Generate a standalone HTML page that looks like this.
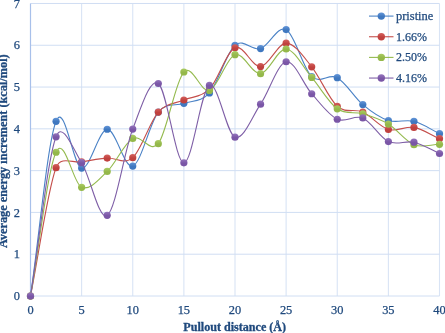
<!DOCTYPE html><html><head><meta charset="utf-8"><title>Chart</title><style>html,body{margin:0;padding:0;background:#fff}svg{display:block}.b{stroke:#1F497D;stroke-width:0.3}.t{stroke:#1F497D;stroke-width:0.25}text{font-family:"Liberation Serif","DejaVu Serif",serif;fill:#1F497D}</style></head><body>
<svg width="445" height="333" viewBox="0 0 445 333">
<rect width="445" height="333" fill="#fff"/>
<defs>
<linearGradient id="g0" x1="0" y1="0" x2="0" y2="1"><stop offset="0" stop-color="#6496D8"/><stop offset="0.55" stop-color="#3F78C0"/><stop offset="1" stop-color="#3F78C0"/></linearGradient>
<linearGradient id="g1" x1="0" y1="0" x2="0" y2="1"><stop offset="0" stop-color="#D4615E"/><stop offset="0.55" stop-color="#C0413E"/><stop offset="1" stop-color="#C0413E"/></linearGradient>
<linearGradient id="g2" x1="0" y1="0" x2="0" y2="1"><stop offset="0" stop-color="#AACB63"/><stop offset="0.55" stop-color="#94B84A"/><stop offset="1" stop-color="#94B84A"/></linearGradient>
<linearGradient id="g3" x1="0" y1="0" x2="0" y2="1"><stop offset="0" stop-color="#9474BC"/><stop offset="0.55" stop-color="#7A56A6"/><stop offset="1" stop-color="#7A56A6"/></linearGradient>
</defs>
<g stroke="#D9E4F5" stroke-width="1.1"><line x1="81.62" x2="81.62" y1="296.00" y2="3.47"/><line x1="132.75" x2="132.75" y1="296.00" y2="3.47"/><line x1="183.88" x2="183.88" y1="296.00" y2="3.47"/><line x1="235.00" x2="235.00" y1="296.00" y2="3.47"/><line x1="286.12" x2="286.12" y1="296.00" y2="3.47"/><line x1="337.25" x2="337.25" y1="296.00" y2="3.47"/><line x1="388.38" x2="388.38" y1="296.00" y2="3.47"/><line x1="439.50" x2="439.50" y1="296.00" y2="3.47"/></g>
<g stroke="#D0DEF3" stroke-width="1"><line x1="30.50" x2="439.50" y1="296.00" y2="296.00"/><line x1="30.50" x2="439.50" y1="254.21" y2="254.21"/><line x1="30.50" x2="439.50" y1="212.42" y2="212.42"/><line x1="30.50" x2="439.50" y1="170.63" y2="170.63"/><line x1="30.50" x2="439.50" y1="128.84" y2="128.84"/><line x1="30.50" x2="439.50" y1="87.05" y2="87.05"/><line x1="30.50" x2="439.50" y1="45.26" y2="45.26"/><line x1="30.50" x2="439.50" y1="3.47" y2="3.47"/></g>
<line x1="30.50" x2="30.50" y1="296.00" y2="3.47" stroke="#A8C0EA" stroke-width="1.2"/>
<text x="19.9" y="300.20" font-size="12.4" text-anchor="end" class="t">0</text>
<text x="19.9" y="258.41" font-size="12.4" text-anchor="end" class="t">1</text>
<text x="19.9" y="216.62" font-size="12.4" text-anchor="end" class="t">2</text>
<text x="19.9" y="174.83" font-size="12.4" text-anchor="end" class="t">3</text>
<text x="19.9" y="133.04" font-size="12.4" text-anchor="end" class="t">4</text>
<text x="19.9" y="91.25" font-size="12.4" text-anchor="end" class="t">5</text>
<text x="19.9" y="49.46" font-size="12.4" text-anchor="end" class="t">6</text>
<text x="19.9" y="7.67" font-size="12.4" text-anchor="end" class="t">7</text>
<text x="30.50" y="313.9" font-size="12.4" text-anchor="middle" class="t">0</text>
<text x="81.62" y="313.9" font-size="12.4" text-anchor="middle" class="t">5</text>
<text x="132.75" y="313.9" font-size="12.4" text-anchor="middle" class="t">10</text>
<text x="183.88" y="313.9" font-size="12.4" text-anchor="middle" class="t">15</text>
<text x="235.00" y="313.9" font-size="12.4" text-anchor="middle" class="t">20</text>
<text x="286.12" y="313.9" font-size="12.4" text-anchor="middle" class="t">25</text>
<text x="337.25" y="313.9" font-size="12.4" text-anchor="middle" class="t">30</text>
<text x="388.38" y="313.9" font-size="12.4" text-anchor="middle" class="t">35</text>
<text x="439.50" y="313.9" font-size="12.4" text-anchor="middle" class="t">40</text>
<text x="234.7" y="330.6" font-size="12.1" font-weight="bold" class="b" text-anchor="middle">Pullout distance (Å)</text>
<text transform="translate(7.4,151.2) rotate(-90)" font-size="12.3" font-weight="bold" class="b" text-anchor="middle">Average energy increment (kcal/mol)</text>
<path d="M30.50 296.00 C39.02 237.77 47.54 142.63 56.06 121.32 C64.58 100.00 73.10 166.80 81.62 168.12 C90.15 169.45 98.67 129.61 107.19 129.26 C115.71 128.91 124.23 168.89 132.75 166.03 C141.27 163.18 149.79 122.57 158.31 112.12 C166.83 101.68 175.35 106.55 183.88 103.35 C192.40 100.14 200.92 102.58 209.44 92.90 C217.96 83.22 226.48 52.64 235.00 45.26 C243.52 37.88 252.04 51.22 260.56 48.60 C269.08 45.99 277.60 24.92 286.12 29.59 C294.65 34.26 303.17 68.59 311.69 76.60 C320.21 84.61 328.73 72.98 337.25 77.65 C345.77 82.31 354.29 97.46 362.81 104.60 C371.33 111.74 379.85 117.70 388.38 120.48 C396.90 123.27 405.42 119.12 413.94 121.32 C422.46 123.51 430.98 129.54 439.50 133.65" fill="none" stroke="#4A82C6" stroke-width="1.1" stroke-linejoin="round"/>
<g fill="url(#g0)"><circle cx="30.50" cy="296.00" r="3.6"/><circle cx="56.06" cy="121.32" r="3.6"/><circle cx="81.62" cy="168.12" r="3.6"/><circle cx="107.19" cy="129.26" r="3.6"/><circle cx="132.75" cy="166.03" r="3.6"/><circle cx="158.31" cy="112.12" r="3.6"/><circle cx="183.88" cy="103.35" r="3.6"/><circle cx="209.44" cy="92.90" r="3.6"/><circle cx="235.00" cy="45.26" r="3.6"/><circle cx="260.56" cy="48.60" r="3.6"/><circle cx="286.12" cy="29.59" r="3.6"/><circle cx="311.69" cy="76.60" r="3.6"/><circle cx="337.25" cy="77.65" r="3.6"/><circle cx="362.81" cy="104.60" r="3.6"/><circle cx="388.38" cy="120.48" r="3.6"/><circle cx="413.94" cy="121.32" r="3.6"/><circle cx="439.50" cy="133.65" r="3.6"/></g>
<path d="M30.50 296.00 C39.02 253.23 47.54 190.06 56.06 167.70 C60.73 155.45 73.10 163.46 81.62 161.85 C90.15 160.25 98.67 158.79 107.19 158.09 C115.71 157.40 124.23 165.34 132.75 157.68 C141.27 150.01 149.79 121.74 158.31 112.12 C166.83 102.51 175.35 103.84 183.88 100.00 C192.40 96.17 200.92 97.85 209.44 89.14 C217.96 80.43 226.48 51.53 235.00 47.77 C243.52 44.01 252.04 67.34 260.56 66.57 C269.08 65.81 277.60 43.14 286.12 43.17 C294.65 43.21 303.17 56.26 311.69 66.78 C320.21 77.30 328.73 98.72 337.25 106.27 C345.77 113.83 354.29 108.26 362.81 112.12 C371.33 115.99 379.85 126.92 388.38 129.47 C396.90 132.01 405.42 125.85 413.94 127.38 C422.46 128.91 430.98 134.90 439.50 138.66" fill="none" stroke="#C44E4B" stroke-width="1.1" stroke-linejoin="round"/>
<g fill="url(#g1)"><circle cx="30.50" cy="296.00" r="3.6"/><circle cx="56.06" cy="167.70" r="3.6"/><circle cx="81.62" cy="161.85" r="3.6"/><circle cx="107.19" cy="158.09" r="3.6"/><circle cx="132.75" cy="157.68" r="3.6"/><circle cx="158.31" cy="112.12" r="3.6"/><circle cx="183.88" cy="100.00" r="3.6"/><circle cx="209.44" cy="89.14" r="3.6"/><circle cx="235.00" cy="47.77" r="3.6"/><circle cx="260.56" cy="66.57" r="3.6"/><circle cx="286.12" cy="43.17" r="3.6"/><circle cx="311.69" cy="66.78" r="3.6"/><circle cx="337.25" cy="106.27" r="3.6"/><circle cx="362.81" cy="112.12" r="3.6"/><circle cx="388.38" cy="129.47" r="3.6"/><circle cx="413.94" cy="127.38" r="3.6"/><circle cx="439.50" cy="138.66" r="3.6"/></g>
<path d="M30.50 296.00 C39.02 248.08 47.54 170.35 56.06 152.24 C64.58 134.13 73.10 184.14 81.62 187.35 C90.15 190.55 98.67 179.61 107.19 171.47 C115.71 163.32 124.23 143.08 132.75 138.45 C141.27 133.82 150.36 154.01 158.31 143.68 C166.83 132.60 175.35 80.89 183.88 72.01 C192.40 63.13 200.92 93.28 209.44 90.39 C217.96 87.50 226.48 57.45 235.00 54.66 C243.52 51.88 252.04 74.62 260.56 73.68 C269.08 72.74 277.60 48.39 286.12 49.02 C294.65 49.65 303.17 67.48 311.69 77.44 C320.21 87.40 328.73 102.72 337.25 108.78 C345.77 114.84 354.29 111.25 362.81 113.80 C371.33 116.34 379.85 118.88 388.38 124.03 C396.90 129.19 405.42 141.34 413.94 144.72 C422.46 148.10 430.98 144.44 439.50 144.30" fill="none" stroke="#94BA4E" stroke-width="1.1" stroke-linejoin="round"/>
<g fill="url(#g2)"><circle cx="30.50" cy="296.00" r="3.6"/><circle cx="56.06" cy="152.24" r="3.6"/><circle cx="81.62" cy="187.35" r="3.6"/><circle cx="107.19" cy="171.47" r="3.6"/><circle cx="132.75" cy="138.45" r="3.6"/><circle cx="158.31" cy="143.68" r="3.6"/><circle cx="183.88" cy="72.01" r="3.6"/><circle cx="209.44" cy="90.39" r="3.6"/><circle cx="235.00" cy="54.66" r="3.6"/><circle cx="260.56" cy="73.68" r="3.6"/><circle cx="286.12" cy="49.02" r="3.6"/><circle cx="311.69" cy="77.44" r="3.6"/><circle cx="337.25" cy="108.78" r="3.6"/><circle cx="362.81" cy="113.80" r="3.6"/><circle cx="388.38" cy="124.03" r="3.6"/><circle cx="413.94" cy="144.72" r="3.6"/><circle cx="439.50" cy="144.30" r="3.6"/></g>
<path d="M30.50 296.00 C39.02 242.93 47.54 159.00 56.06 136.78 C62.58 119.79 73.10 149.60 81.62 162.69 C90.15 175.78 98.67 220.95 107.19 215.35 C115.71 209.74 124.23 151.02 132.75 129.05 C141.27 107.07 149.79 77.86 158.31 83.50 C166.83 89.13 175.35 162.54 183.88 162.86 C192.40 163.17 200.92 89.65 209.44 85.38 C217.96 81.10 226.48 134.06 235.00 137.20 C243.52 140.33 252.04 116.76 260.56 104.18 C269.08 91.61 277.60 63.51 286.12 61.77 C294.65 60.03 303.17 84.16 311.69 93.74 C320.21 103.31 328.73 115.19 337.25 119.23 C345.77 123.27 354.29 114.25 362.81 117.97 C371.33 121.70 379.85 137.55 388.38 141.59 C396.90 145.63 405.42 140.23 413.94 142.21 C422.46 144.20 430.98 149.73 439.50 153.50" fill="none" stroke="#7E5EA6" stroke-width="1.1" stroke-linejoin="round"/>
<g fill="url(#g3)"><circle cx="30.50" cy="296.00" r="3.6"/><circle cx="56.06" cy="136.78" r="3.6"/><circle cx="81.62" cy="162.69" r="3.6"/><circle cx="107.19" cy="215.35" r="3.6"/><circle cx="132.75" cy="129.05" r="3.6"/><circle cx="158.31" cy="83.50" r="3.6"/><circle cx="183.88" cy="162.86" r="3.6"/><circle cx="209.44" cy="85.38" r="3.6"/><circle cx="235.00" cy="137.20" r="3.6"/><circle cx="260.56" cy="104.18" r="3.6"/><circle cx="286.12" cy="61.77" r="3.6"/><circle cx="311.69" cy="93.74" r="3.6"/><circle cx="337.25" cy="119.23" r="3.6"/><circle cx="362.81" cy="117.97" r="3.6"/><circle cx="388.38" cy="141.59" r="3.6"/><circle cx="413.94" cy="142.21" r="3.6"/><circle cx="439.50" cy="153.50" r="3.6"/></g>
<line x1="369" x2="393.5" y1="16.10" y2="16.10" stroke="#4A82C6" stroke-width="1.1"/>
<circle cx="381.3" cy="16.10" r="3.7" fill="url(#g0)"/>
<text x="396" y="19.90" font-size="12.45" class="t">pristine</text>
<line x1="369" x2="393.5" y1="36.75" y2="36.75" stroke="#C44E4B" stroke-width="1.1"/>
<circle cx="381.3" cy="36.75" r="3.7" fill="url(#g1)"/>
<text x="396" y="40.55" font-size="12" class="t">1.66%</text>
<line x1="369" x2="393.5" y1="57.40" y2="57.40" stroke="#94BA4E" stroke-width="1.1"/>
<circle cx="381.3" cy="57.40" r="3.7" fill="url(#g2)"/>
<text x="396" y="61.20" font-size="12" class="t">2.50%</text>
<line x1="369" x2="393.5" y1="78.05" y2="78.05" stroke="#7E5EA6" stroke-width="1.1"/>
<circle cx="381.3" cy="78.05" r="3.7" fill="url(#g3)"/>
<text x="396" y="81.85" font-size="12" class="t">4.16%</text>
</svg></body></html>
